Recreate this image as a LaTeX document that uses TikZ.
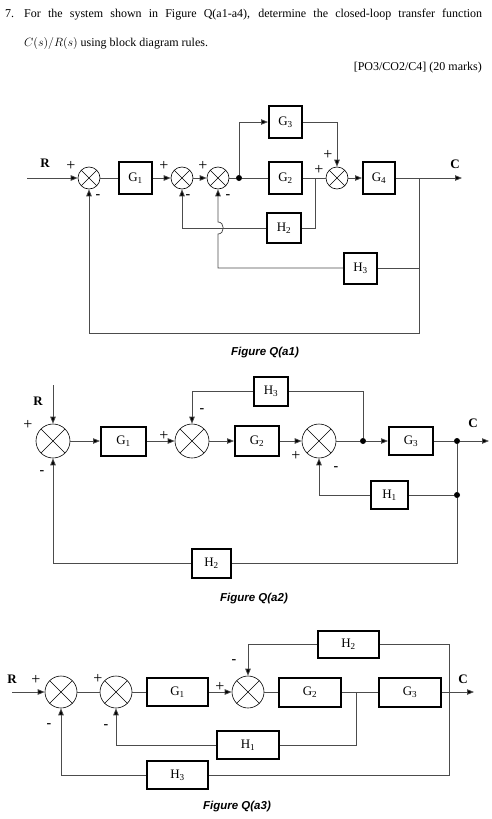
\documentclass[tikz,border=0pt]{standalone}
\usepackage{fontspec}
\setmainfont{Liberation Serif}
\newfontfamily\capfont{Liberation Sans}
\usetikzlibrary{arrows.meta}

\begin{document}
\begin{tikzpicture}[
    x=1pt, y=-1pt,
    every node/.style={font=\fontsize{12}{14}\selectfont},
    blk/.style={rectangle, draw=black, line width=2pt, minimum width=33pt, minimum height=32pt, inner sep=0pt, font=\fontsize{13}{14}\selectfont},
    sumnode/.style={circle, draw=black, line width=0.6pt, minimum size=22pt, inner sep=0pt,
        path picture={\draw[line width=0.6pt] (path picture bounding box.north west) -- (path picture bounding box.south east)
                      (path picture bounding box.north east) -- (path picture bounding box.south west);}},
    dot/.style={circle, fill=black, inner sep=0pt, minimum size=6pt},
    sig/.style={draw=black!70, line width=0.75pt},
    arr/.style={sig, -{Triangle[length=7pt,width=5.5pt,fill=black]}},
    sgn/.style={inner sep=0pt, font=\fontsize{16}{16}\selectfont},
    msgn/.style={inner sep=0pt, font=\bfseries\fontsize{14}{14}\selectfont},
    lbl/.style={inner sep=0pt, font=\bfseries\fontsize{13}{14}\selectfont},
    capt/.style={inner sep=0pt, font=\capfont\bfseries\itshape\fontsize{11.5}{13}\selectfont}
]
\useasboundingbox (0,0) rectangle (491,819);

% Question
\node[anchor=base west, inner sep=0pt] (qnum) at (5,17) {7.};
\node[anchor=base west, inner sep=0pt] (qline1) at (24,17) {\makebox[458pt][s]{For the system shown in Figure Q(a1-a4), determine the closed-loop transfer function}};
\node[anchor=base west, inner sep=0pt] (qline2) at (24,46) {$C(s)/R(s)$ using block diagram rules.};
\node[anchor=base east, inner sep=0pt] (qmarks) at (482,70) {[PO3/CO2/C4] (20 marks)};

% Figure Q(a1)
\node[sumnode] (aS1) at (89,178) {};
\node[blk] (aG1) at (135.5,178) {G\textsubscript{1}};
\node[sumnode] (aS2) at (182,178) {};
\node[sumnode] (aS3) at (218,178) {};
\node[dot] (aJ1) at (239,178) {};
\node[blk] (aG2) at (285.5,178) {G\textsubscript{2}};
\node[blk] (aG3) at (285.5,122) {G\textsubscript{3}};
\node[blk, minimum width=34pt, minimum height=30pt] (aH2) at (284,228) {H\textsubscript{2}};
\node[sumnode] (aS4) at (337,178) {};
\node[blk, minimum width=32pt] (aG4) at (379,178) {G\textsubscript{4}};
\node[blk, minimum height=31pt] (aH3) at (360.5,268) {H\textsubscript{3}};
\coordinate (aIn) at (27,178);
\coordinate (aOut) at (462,178);
\coordinate (aT1) at (419,178);
\coordinate (aT2) at (315,178);
\coordinate (aB1) at (419,333);
\coordinate (aHopB) at (218,234);
\coordinate (aHopT) at (218,222);

\draw[arr] (aIn) -- (aS1);
\draw[sig] (aS1) -- (aG1);
\draw[arr] (aG1) -- (aS2);
\draw[arr] (aS2) -- (aS3);
\draw[sig] (aS3) -- (aJ1) -- (aG2);
\draw[arr] (aJ1) |- (aG3);
\draw[arr] (aG3) -| (aS4);
\draw[sig] (aG2) -- (aS4);
\draw[arr] (aS4) -- (aG4);
\draw[arr] (aG4) -- (aOut);
\draw[sig] (aT2) |- (aH2);
\draw[arr] (aH2) -| (aS2);
\draw[sig] (aT1) |- (aH3);
\draw[arr] (aH3) -| (aHopB) .. controls +(7,0) and +(7,0) .. (aHopT) -- (aS3);
\draw[arr] (aT1) -- (aB1) -| (aS1);

\node[lbl] (aR) at (45,163) {R};
\node[lbl] (aC) at (455,164) {C};
\node[sgn] at (71,166) {+};
\node[msgn] at (98,197) {-};
\node[sgn] at (164,166) {+};
\node[msgn] at (188,197) {-};
\node[sgn] at (203,166) {+};
\node[msgn] at (228,197) {-};
\node[sgn] at (328,155) {+};
\node[sgn] at (319,170) {+};
\node[capt] (acap) at (265,353) {Figure Q(a1)};

% Figure Q(a2)
\node[sumnode, minimum size=34pt] (bS1) at (53,441) {};
\node[blk, minimum width=45pt, minimum height=29pt] (bG1) at (123.5,441) {G\textsubscript{1}};
\node[sumnode, minimum size=34pt] (bS2) at (192,441) {};
\node[blk, minimum width=44pt, minimum height=30pt] (bG2) at (257,441) {G\textsubscript{2}};
\node[sumnode, minimum size=34pt] (bS3) at (319,441) {};
\node[dot] (bJ1) at (363,441) {};
\node[blk, minimum width=44pt, minimum height=28pt] (bG3) at (411,441) {G\textsubscript{3}};
\node[dot] (bJ2) at (457,441) {};
\node[blk, minimum width=34pt, minimum height=29pt] (bH3) at (271,391.5) {H\textsubscript{3}};
\node[dot] (bJ3) at (457,495) {};
\node[blk, minimum width=37pt, minimum height=28pt] (bH1) at (389.5,495) {H\textsubscript{1}};
\node[blk, minimum width=39pt, minimum height=29pt] (bH2) at (211.5,563) {H\textsubscript{2}};
\coordinate (bIn) at (53,385);
\coordinate (bOut) at (489,441);

\draw[arr] (bIn) -- (bS1);
\draw[arr] (bS1) -- (bG1);
\draw[arr] (bG1) -- (bS2);
\draw[arr] (bS2) -- (bG2);
\draw[arr] (bG2) -- (bS3);
\draw[sig] (bS3) -- (bJ1);
\draw[arr] (bJ1) -- (bG3);
\draw[sig] (bG3) -- (bJ2);
\draw[arr] (bJ2) -- (bOut);
\draw[sig] (bJ1) |- (bH3);
\draw[arr] (bH3) -| (bS2);
\draw[sig] (bJ2) -- (bJ3) -- (bH1);
\draw[arr] (bH1) -| (bS3);
\draw[sig] (bJ3) |- (bH2);
\draw[arr] (bH2) -| (bS1);

\node[lbl] (bR) at (38,401) {R};
\node[lbl] (bC) at (473,423) {C};
\node[sgn] at (28,425) {+};
\node[msgn] at (42,473) {-};
\node[sgn] at (164,436) {+};
\node[msgn] at (202,411) {-};
\node[sgn] at (296,456) {+};
\node[msgn] at (336,469) {-};
\node[capt] (bcap) at (254,599) {Figure Q(a2)};

% Figure Q(a3)
\node[sumnode, minimum size=32pt] (cS1) at (61,692) {};
\node[sumnode, minimum size=32pt] (cS2) at (116,692) {};
\node[blk, minimum width=61pt, minimum height=28pt] (cG1) at (177.5,692) {G\textsubscript{1}};
\node[sumnode, minimum size=32pt] (cS3) at (248,692) {};
\node[blk, minimum width=62pt, minimum height=29pt] (cG2) at (310,692) {G\textsubscript{2}};
\node[blk, minimum width=62pt, minimum height=29pt] (cG3) at (410,692) {G\textsubscript{3}};
\node[blk, minimum width=61pt, minimum height=27pt] (cH2) at (348.5,644) {H\textsubscript{2}};
\node[blk, minimum width=62pt, minimum height=28pt] (cH1) at (248,745) {H\textsubscript{1}};
\node[blk, minimum width=61pt, minimum height=28pt] (cH3) at (177.5,775) {H\textsubscript{3}};
\coordinate (cIn) at (12,692);
\coordinate (cOut) at (474,692);
\coordinate (cT1) at (356,692);
\coordinate (cT2) at (449,692);

\draw[arr] (cIn) -- (cS1);
\draw[sig] (cS1) -- (cS2);
\draw[sig] (cS2) -- (cG1);
\draw[arr] (cG1) -- (cS3);
\draw[sig] (cS3) -- (cG2);
\draw[sig] (cG2) -- (cG3);
\draw[arr] (cG3) -- (cOut);
\draw[sig] (cT1) |- (cH1);
\draw[arr] (cH1) -| (cS2);
\draw[sig] (cT2) |- (cH2);
\draw[sig] (cT2) |- (cH3);
\draw[arr] (cH2) -| (cS3);
\draw[arr] (cH3) -| (cS1);

\node[lbl] (cR) at (12,679) {R};
\node[lbl] (cC) at (463,679) {C};
\node[sgn] at (36,680) {+};
\node[msgn] at (49,726) {-};
\node[sgn] at (98,679) {+};
\node[msgn] at (106,727) {-};
\node[sgn] at (220,687) {+};
\node[msgn] at (234,662) {-};
\node[capt] (ccap) at (237,807) {Figure Q(a3)};

\end{tikzpicture}
\end{document}
